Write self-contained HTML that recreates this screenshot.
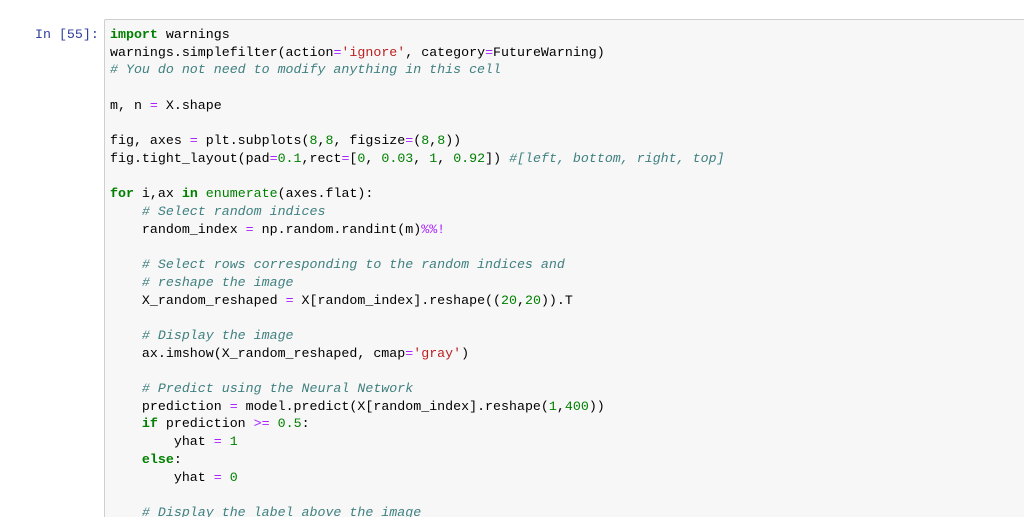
<!DOCTYPE html>
<html><head><style>
html,body{margin:0;width:1024px;height:517px;background:#fff;overflow:hidden;}
body{position:relative;font-family:"Liberation Mono",monospace;}
.prompt{position:absolute;left:35px;top:26px;color:#303f9f;font-size:13.3px;line-height:17.7px;}
.box{position:absolute;left:104px;top:19px;width:919px;height:498px;background:#f7f7f7;border:1px solid #cfcfcf;border-bottom:none;border-right:none;border-radius:2px 0 0 0;}
pre{position:absolute;left:110px;top:26px;margin:0;font-family:"Liberation Mono",monospace;font-size:13.3px;line-height:17.7px;color:#000;height:491px;overflow:hidden;}
.k{color:#008000;font-weight:bold}.o{color:#aa22ff}.s{color:#ba2121}.n{color:#008000}.c{color:#408080;font-style:italic}.b{color:#008000}
</style></head><body>
<div class="prompt">In [55]:</div>
<div class="box"></div>
<pre><span class="k">import</span> warnings
warnings.simplefilter(action<span class="o">=</span><span class="s">'ignore'</span>, category<span class="o">=</span>FutureWarning)
<span class="c"># You do not need to modify anything in this cell</span>

m, n <span class="o">=</span> X.shape

fig, axes <span class="o">=</span> plt.subplots(<span class="n">8</span>,<span class="n">8</span>, figsize<span class="o">=</span>(<span class="n">8</span>,<span class="n">8</span>))
fig.tight_layout(pad<span class="o">=</span><span class="n">0.1</span>,rect<span class="o">=</span>[<span class="n">0</span>, <span class="n">0.03</span>, <span class="n">1</span>, <span class="n">0.92</span>]) <span class="c">#[left, bottom, right, top]</span>

<span class="k">for</span> i,ax <span class="k">in</span> <span class="b">enumerate</span>(axes.flat):
    <span class="c"># Select random indices</span>
    random_index <span class="o">=</span> np.random.randint(m)<span class="o">%%!</span>

    <span class="c"># Select rows corresponding to the random indices and</span>
    <span class="c"># reshape the image</span>
    X_random_reshaped <span class="o">=</span> X[random_index].reshape((<span class="n">20</span>,<span class="n">20</span>)).T

    <span class="c"># Display the image</span>
    ax.imshow(X_random_reshaped, cmap<span class="o">=</span><span class="s">'gray'</span>)

    <span class="c"># Predict using the Neural Network</span>
    prediction <span class="o">=</span> model.predict(X[random_index].reshape(<span class="n">1</span>,<span class="n">400</span>))
    <span class="k">if</span> prediction <span class="o">&gt;=</span> <span class="n">0.5</span>:
        yhat <span class="o">=</span> <span class="n">1</span>
    <span class="k">else</span>:
        yhat <span class="o">=</span> <span class="n">0</span>

    <span class="c"># Display the label above the image</span>
</pre>
</body></html>
